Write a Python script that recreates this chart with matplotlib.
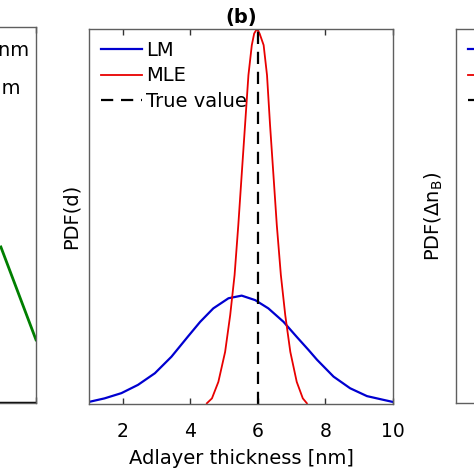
import numpy as np
import matplotlib
matplotlib.use('Agg')
import matplotlib.pyplot as plt
from matplotlib.lines import Line2D

# values (PDF normalised so the MLE peak = 1)
lm_x = [1.02, 1.46, 1.96, 2.45, 2.95, 3.44, 3.93, 4.29, 4.68, 5.13, 5.52,
        5.92, 6.31, 6.76, 7.15, 7.5, 7.75, 8.24, 8.73, 9.23, 9.72, 9.97]
lm_y = [0.006, 0.015, 0.029, 0.051, 0.082, 0.126, 0.18, 0.219, 0.255, 0.282, 0.289,
        0.277, 0.255, 0.219, 0.179, 0.144, 0.118, 0.073, 0.042, 0.021, 0.011, 0.006]

mle_x = [4.49, 4.64, 4.83, 5.03, 5.18, 5.31, 5.42, 5.52, 5.62, 5.72, 5.82, 5.89, 5.97,
         6.05, 6.17, 6.27, 6.36, 6.46, 6.56, 6.68, 6.81, 6.96, 7.15, 7.33, 7.45]
mle_y = [0.002, 0.015, 0.059, 0.139, 0.237, 0.344, 0.477, 0.611, 0.744, 0.877, 0.957, 0.988, 1.0,
         0.988, 0.957, 0.877, 0.744, 0.611, 0.477, 0.344, 0.237, 0.139, 0.059, 0.015, 0.002]

true_d = 6
xticks = [2, 4, 6, 8, 10]

# left panel (mostly cut off)
left_green_x = [8.96, 10]
left_green_y = [0.415, 0.168]
left_black_x = [1, 10]
left_black_y = [0, 0]
left_labels = ['d = 6 nm', 'Δd = 1 nm']

W = H = 474
fig = plt.figure(figsize=(4.74, 4.74), dpi=100)
fs = 14
grey = '#5f5f5f'
blue = '#0000d0'
red = '#e80000'


def box(l, t, r, b):
    return [l / W, 1 - b / H, (r - l) / W, (b - t) / H]


def style(ax):
    for s in ax.spines.values():
        s.set_color(grey)
        s.set_linewidth(1)
    ax.tick_params(axis='x', direction='in', top=True, length=4, width=1,
                   color='#333333', labelsize=fs - 0.5, pad=13)
    ax.set_yticks([])


# left panel
ax0 = fig.add_axes(box(-268, 27, 36, 403))
style(ax0)
ax0.plot(left_green_x, left_green_y, color='#007f00', lw=2)
ax0.plot(left_black_x, left_black_y, color='k', lw=2.5)
ax0.set_xlim(1, 10)
ax0.set_ylim(0, 1)
ax0.set_xticks(xticks)
ax0.set_xticklabels([])
fig.text(29 / W, 1 - 50 / H, left_labels[0], fontsize=fs, ha='right', va='center')
fig.text(21 / W, 1 - 88 / H, left_labels[1], fontsize=fs, ha='right', va='center')

# middle panel
ax = fig.add_axes(box(89, 29, 393, 404))
style(ax)
ax.plot(lm_x, lm_y, color=blue, lw=1.6, label='LM', solid_joinstyle='round')
ax.plot(mle_x, mle_y, color=red, lw=1.3, label='MLE', solid_joinstyle='round')
ax.axvline(true_d, color='k', lw=1.6, dashes=(5.5, 3.5), label='True value')
ax.set_xlim(1, 10)
ax.set_ylim(0, 1)
ax.set_xticks(xticks)
ax.set_xlabel('Adlayer thickness [nm]', fontsize=fs, labelpad=6)
ax.set_ylabel('PDF(d)', fontsize=fs, labelpad=6)
ax.set_title('(b)', fontsize=fs, fontweight='bold', pad=4)
ax.legend(loc='upper left', frameon=False, fontsize=fs, handlelength=2.1,
          handletextpad=0.25, borderaxespad=0.2, labelspacing=0.35)

# right panel (cut off)
ax2 = fig.add_axes(box(456, 29, 760, 403))
style(ax2)
ax2.set_xlim(1, 10)
ax2.set_ylim(0, 1)
ax2.set_xticks(xticks)
ax2.set_xticklabels([])
ax2.set_ylabel(r'PDF($\Delta$n$_\mathregular{B}$)', fontsize=fs, labelpad=8)
handles = [Line2D([], [], color=blue, lw=1.6),
           Line2D([], [], color=red, lw=1.3),
           Line2D([], [], color='k', lw=1.6, dashes=(5.5, 3.5))]
ax2.legend(handles, ['LM', 'MLE', 'True value'], loc='upper left', frameon=False,
           fontsize=fs, handlelength=2.1, handletextpad=0.25, borderaxespad=0.2,
           labelspacing=0.35)

fig.savefig('out.png', dpi=100)
